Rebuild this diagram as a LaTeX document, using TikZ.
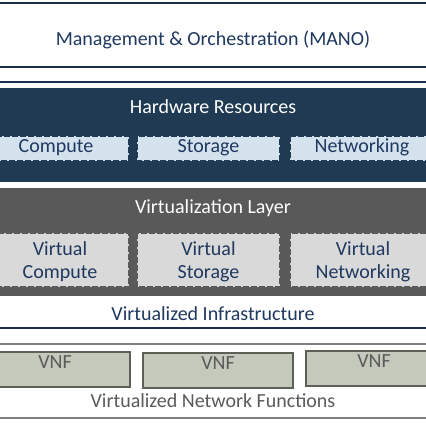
\documentclass[tikz,border=0pt]{standalone}
\usepackage{fontspec}
\setmainfont{Carlito}
\definecolor{navy}{HTML}{1F3A52}
\definecolor{navyline}{HTML}{1C2E4E}
\definecolor{navytext}{HTML}{1F3860}
\definecolor{lightblue}{HTML}{D4E2EE}
\definecolor{darkgray}{HTML}{595959}
\definecolor{lightgray}{HTML}{D9D9D9}
\definecolor{vnffill}{HTML}{C4C9BC}
\definecolor{vnfborder}{HTML}{5B6157}
\definecolor{grayline}{HTML}{7F7F7F}
\definecolor{graytext}{HTML}{5A5A5A}
\tikzset{
  lbl/.style={font=\fontsize{20}{24}\selectfont, inner sep=0pt, anchor=base},
  twoline/.style={font=\fontsize{20}{23}\selectfont, inner sep=0pt, align=center, anchor=center, text=navytext},
  hwbox/.style={fill=lightblue, draw=navy, line width=1.5pt, dash pattern=on 6pt off 2pt},
  vbox/.style={fill=lightgray, draw=darkgray, line width=1.5pt, dash pattern=on 6pt off 2pt},
  vnfbox/.style={fill=vnffill, draw=vnfborder, line width=1.5pt},
  navyrule/.style={draw=navyline, line width=2pt},
  grayrule/.style={draw=grayline, line width=2pt},
}
\begin{document}
\begin{tikzpicture}[x=1pt,y=1pt]
\useasboundingbox (0,0) rectangle (426,-426);
\fill[white] (0,0) rectangle (426,-426);
% top section
\draw[navyrule, line width=2.5pt] (-5,-3) -- (431,-3);
\node[lbl, text=navytext] (mano) at (213,-45) {Management \& Orchestration (MANO)};
\draw[navyrule] (-5,-67) -- (431,-67);
\draw[navyrule] (-5,-82) -- (431,-82);
% hardware band
\fill[navy] (-5,-88) rectangle (431,-182);
\path[hwbox] (-6,-136) rectangle (129,-161);
\path[hwbox] (137,-136) rectangle (280,-161);
\path[hwbox] (290,-136) rectangle (432,-161);
\node[lbl, text=white] (hw) at (213,-113) {Hardware Resources};
\node[lbl, text=navytext] (compute) at (56,-152) {Compute};
\node[lbl, text=navytext] (storage) at (208.5,-152) {Storage};
\node[lbl, text=navytext] (network) at (362,-152) {Networking};
% virtualization band
\fill[darkgray] (-5,-188) rectangle (431,-296);
\path[vbox] (-6,-233) rectangle (129,-287);
\path[vbox] (137,-233) rectangle (280,-287);
\path[vbox] (290,-233) rectangle (432,-287);
\node[lbl, text=white] (virt) at (213,-213) {Virtualization Layer};
\node[twoline] (vcompute) at (60,-262) {Virtual\\Compute};
\node[twoline] (vstorage) at (208.5,-262) {Virtual\\Storage};
\node[twoline] (vnetwork) at (363,-262) {Virtual\\Networking};
% virtualized infrastructure
\node[lbl, text=navytext] (vi) at (213,-320) {Virtualized Infrastructure};
\draw[navyrule] (-5,-328) -- (431,-328);
\draw[grayrule] (-5,-344) -- (431,-344);
% VNFs
\path[vnfbox] (-6,-352) rectangle (130,-387);
\path[vnfbox] (143,-353) rectangle (293,-388);
\path[vnfbox] (306,-351) rectangle (432,-386);
\node[lbl, text=graytext] (vnf1) at (55,-368) {VNF};
\node[lbl, text=graytext] (vnf2) at (218,-369) {VNF};
\node[lbl, text=graytext] (vnf3) at (374,-367) {VNF};
\node[lbl, text=graytext] (vnfs) at (213,-407) {Virtualized Network Functions};
\draw[grayrule] (-5,-418) -- (431,-418);
\end{tikzpicture}
\end{document}
